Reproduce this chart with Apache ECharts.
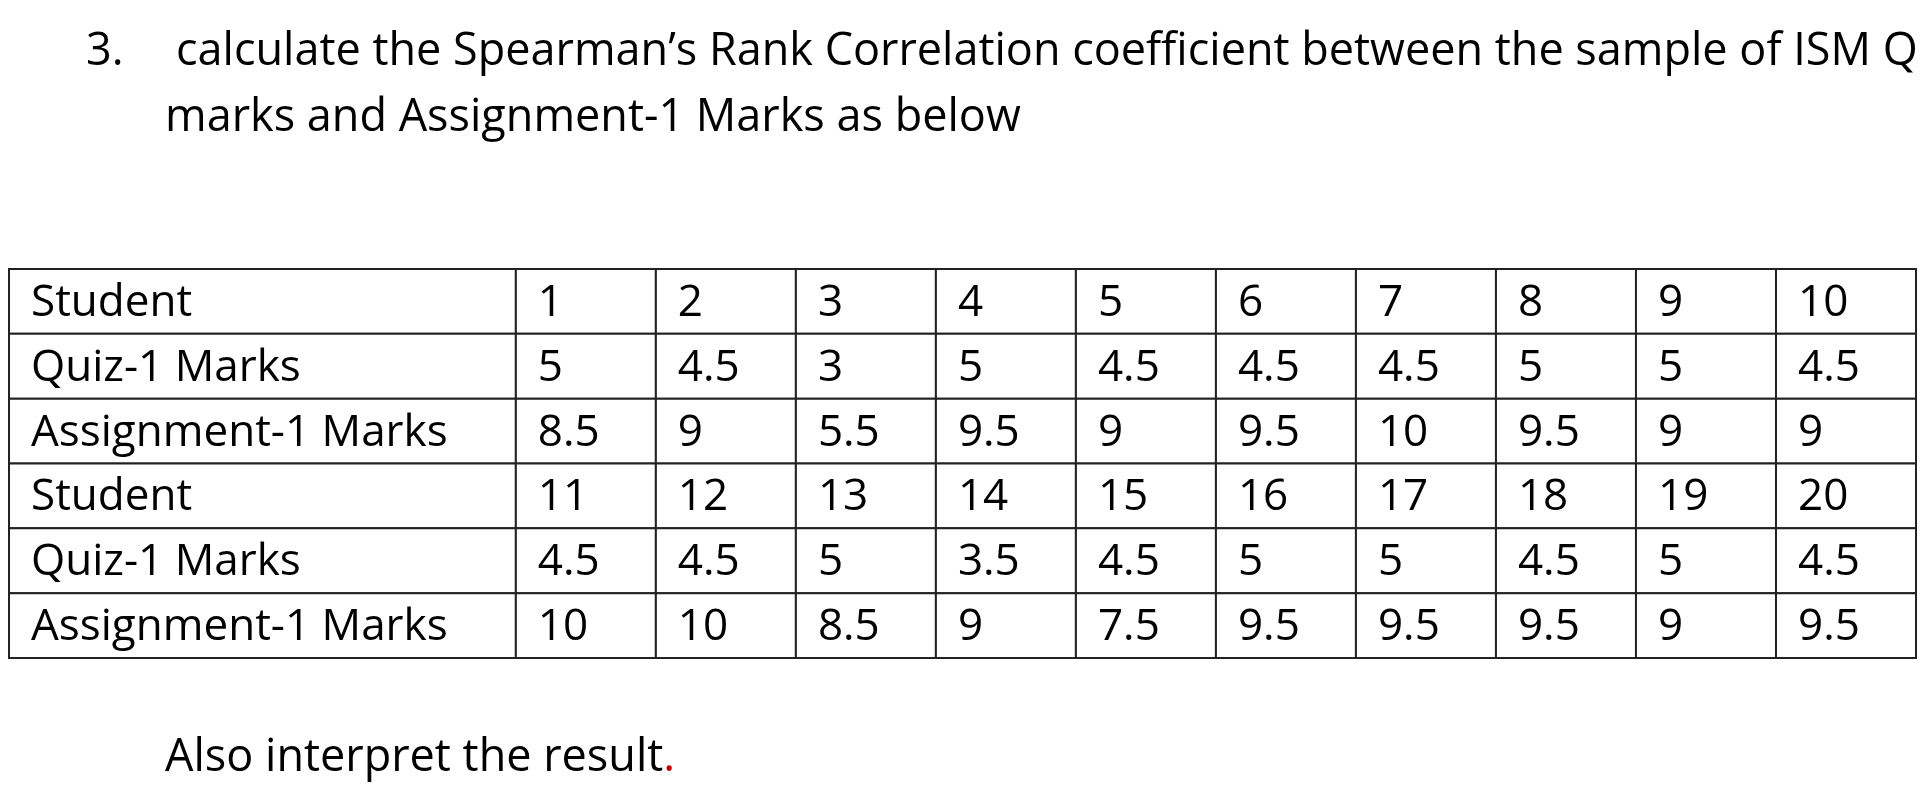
<!DOCTYPE html>
<html>
<head>
<meta charset="utf-8">
<script src="https://cdn.jsdelivr.net/npm/echarts@6/dist/echarts.min.js"></script>
<style>html,body{margin:0;padding:0;background:#fff}#chart{width:1920px;height:796px}</style>
</head>
<body>
<div id="chart"></div>
<script>
// table content
var rowLabels = ['Student', 'Quiz-1 Marks', 'Assignment-1 Marks', 'Student', 'Quiz-1 Marks', 'Assignment-1 Marks'];
var students1 = ['1', '2', '3', '4', '5', '6', '7', '8', '9', '10'];
var quiz1 = ['5', '4.5', '3', '5', '4.5', '4.5', '4.5', '5', '5', '4.5'];
var assign1 = ['8.5', '9', '5.5', '9.5', '9', '9.5', '10', '9.5', '9', '9'];
var students2 = ['11', '12', '13', '14', '15', '16', '17', '18', '19', '20'];
var quiz2 = ['4.5', '4.5', '5', '3.5', '4.5', '5', '5', '4.5', '5', '4.5'];
var assign2 = ['10', '10', '8.5', '9', '7.5', '9.5', '9.5', '9.5', '9', '9.5'];

var rows = [students1, quiz1, assign1, students2, quiz2, assign2];
var FIRST_W = 3.62; // first column width in column units

var cells = [];
rows.forEach(function (vals, r) {
  cells.push([0, FIRST_W, r, rowLabels[r]]);
  vals.forEach(function (v, c) {
    cells.push([FIRST_W + c, FIRST_W + c + 1, r, v]);
  });
});

var font = '"Open Sans", "Noto Sans", sans-serif';

function renderCell(params, api) {
  var r = api.value(2);
  var p0 = api.coord([api.value(0), r]);
  var p1 = api.coord([api.value(1), r]);
  var h = api.size([0, 1])[1];
  var x = p0[0], w = p1[0] - p0[0], y = p0[1] - h / 2;
  return {
    type: 'group',
    children: [
      { type: 'rect', shape: { x: x, y: y, width: w, height: h },
        style: { fill: '#fff', stroke: '#222', lineWidth: 2 } },
      { type: 'text', style: { x: x + 22, y: y + h / 2 + 2, text: cells[params.dataIndex][3],
        font: '44px ' + font, fill: '#000', verticalAlign: 'middle', align: 'left' } }
    ]
  };
}

var chart = echarts.init(document.getElementById('chart'));
chart.setOption({
  animation: false,
  graphic: [
    { type: 'text', left: 86, top: 30, style: { text: '3.', font: '45px ' + font, fill: '#000' } },
    { type: 'text', left: 176, top: 30, style: { text: 'calculate the Spearman\u2019s Rank Correlation coefficient between the sample of ISM Quiz-1', font: '45px ' + font, fill: '#000' } },
    { type: 'text', left: 165, top: 96, style: { text: 'marks and Assignment-1 Marks as below', font: '45px ' + font, fill: '#000' } },
    { type: 'text', left: 165, top: 736, style: { text: 'Also interpret the result{r|.}', font: '45px ' + font, fill: '#000',
      rich: { r: { font: '45px ' + font, fill: '#c00000', color: '#c00000' } } } }
  ],
  grid: { left: 9, right: 4, top: 269, bottom: 138 },
  xAxis: { type: 'value', min: 0, max: FIRST_W + 10, show: false },
  yAxis: { type: 'category', data: rowLabels, inverse: true, show: false },
  series: [{
    type: 'custom',
    renderItem: renderCell,
    encode: { x: [0, 1], y: 2 },
    data: cells
  }]
});
</script>
</body>
</html>
